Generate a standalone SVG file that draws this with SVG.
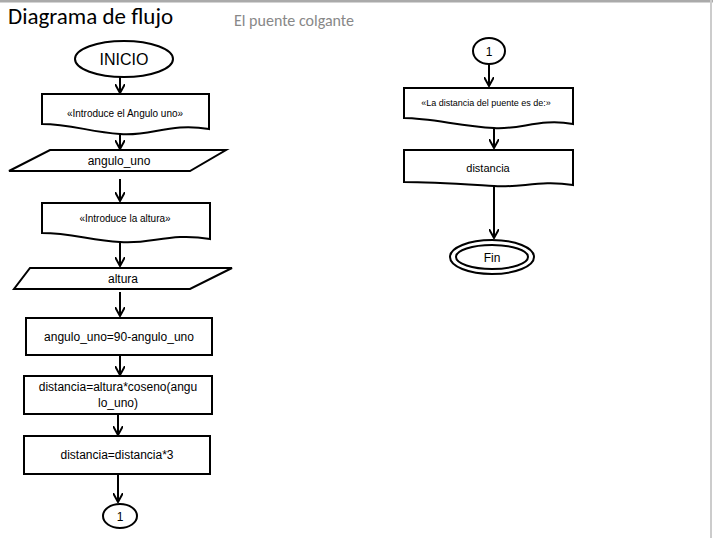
<svg xmlns="http://www.w3.org/2000/svg" width="713" height="538" viewBox="0 0 713 538">
<style>
.s{fill:#fff;stroke:#000;stroke-width:2}
.t{font-family:"Liberation Sans",Arial,sans-serif;font-size:12px;text-anchor:middle}
.c line{stroke:#000;stroke-width:2}
</style>
<defs><marker id="a" markerWidth="10" markerHeight="10" refX="9" refY="5" orient="auto" markerUnits="userSpaceOnUse"><path d="M0,0 L9,5 L0,10" fill="none" stroke="#000" stroke-width="2"/></marker></defs>
<rect width="713" height="538" fill="#fff"/>
<line x1="0" y1="1" x2="713" y2="1" stroke="#aaa" stroke-width="3"/>
<line x1="711" y1="0" x2="711" y2="538" stroke="#ccc" stroke-width="2"/>
<text x="8" y="24" font-family="Calibri,'Liberation Sans',sans-serif" font-size="23">Diagrama de flujo</text>
<text x="234" y="26" font-family="Calibri,'Liberation Sans',sans-serif" font-size="16" fill="#888">El puente colgante</text>
<g class="c">
<line x1="120" y1="77" x2="120" y2="93" marker-end="url(#a)"/>
<line x1="120" y1="132" x2="120" y2="149" marker-end="url(#a)"/>
<line x1="120" y1="179" x2="120" y2="201" marker-end="url(#a)"/>
<line x1="120" y1="240" x2="120" y2="266" marker-end="url(#a)"/>
<line x1="120" y1="292" x2="120" y2="316" marker-end="url(#a)"/>
<line x1="120" y1="355" x2="120" y2="375" marker-end="url(#a)"/>
<line x1="118" y1="414" x2="118" y2="435" marker-end="url(#a)"/>
<line x1="118" y1="475" x2="118" y2="502" marker-end="url(#a)"/>
<line x1="489" y1="64" x2="489" y2="86" marker-end="url(#a)"/>
<line x1="494" y1="126" x2="494" y2="148" marker-end="url(#a)"/>
<line x1="494" y1="186" x2="494" y2="238" marker-end="url(#a)"/>
</g>
<g id="inicio"><ellipse class="s" cx="124" cy="59" rx="49" ry="18"/><text class="t" x="124" y="65" style="font-size:16px">INICIO</text></g>
<g id="doc1"><path class="s" d="M42,94 H209 V129 C170,122 150,137 120,134 C90,132 70,124 42,124 Z"/><text class="t" x="125" y="117" style="font-size:10px">«Introduce el Angulo  uno»</text></g>
<g id="in1"><path class="s" d="M50,150 H226 L190,171 H9 Z"/><text class="t" x="119" y="165">angulo_uno</text></g>
<g id="doc2"><path class="s" d="M42,203 H210 V239 C170,232 150,245 120,242 C90,240 70,233 42,233 Z"/><text class="t" x="125" y="222" style="font-size:10px">«Introduce  la altura»</text></g>
<g id="in2"><path class="s" d="M30,268 H232 L190,289 H14 Z"/><text class="t" x="123" y="283">altura</text></g>
<g id="p1"><rect class="s" x="26" y="318" width="186" height="37"/><text class="t" x="119" y="341">angulo_uno=90-angulo_uno</text></g>
<g id="p2"><rect class="s" x="24" y="376" width="188" height="38"/><text class="t" x="118" y="391">distancia=altura*coseno(angu</text><text class="t" x="118" y="407">lo_uno)</text></g>
<g id="p3"><rect class="s" x="24" y="436" width="186" height="38"/><text class="t" x="117" y="459">distancia=distancia*3</text></g>
<g id="c1"><ellipse class="s" cx="120" cy="516" rx="17" ry="12"/><text class="t" x="120" y="521">1</text></g>
<g id="c2"><ellipse class="s" cx="489" cy="51" rx="16" ry="13"/><text class="t" x="489" y="56">1</text></g>
<g id="doc3"><path class="s" d="M404,88 H573 V124 C540,118 520,130 494,128 C460,126 430,118 404,118 Z"/><text class="t" x="486" y="106" style="font-size:9px">«La distancia del puente es de:»</text></g>
<g id="out"><path class="s" d="M404,150 H573 V185 C540,180 520,188 494,186 C460,184 430,182 404,182 Z"/><text class="t" x="488" y="172" style="font-size:11px">distancia</text></g>
<g id="fin"><ellipse class="s" cx="492" cy="257" rx="42" ry="17"/><ellipse class="s" cx="492" cy="257" rx="36" ry="12"/><text class="t" x="492" y="262">Fin</text></g>
</svg>
